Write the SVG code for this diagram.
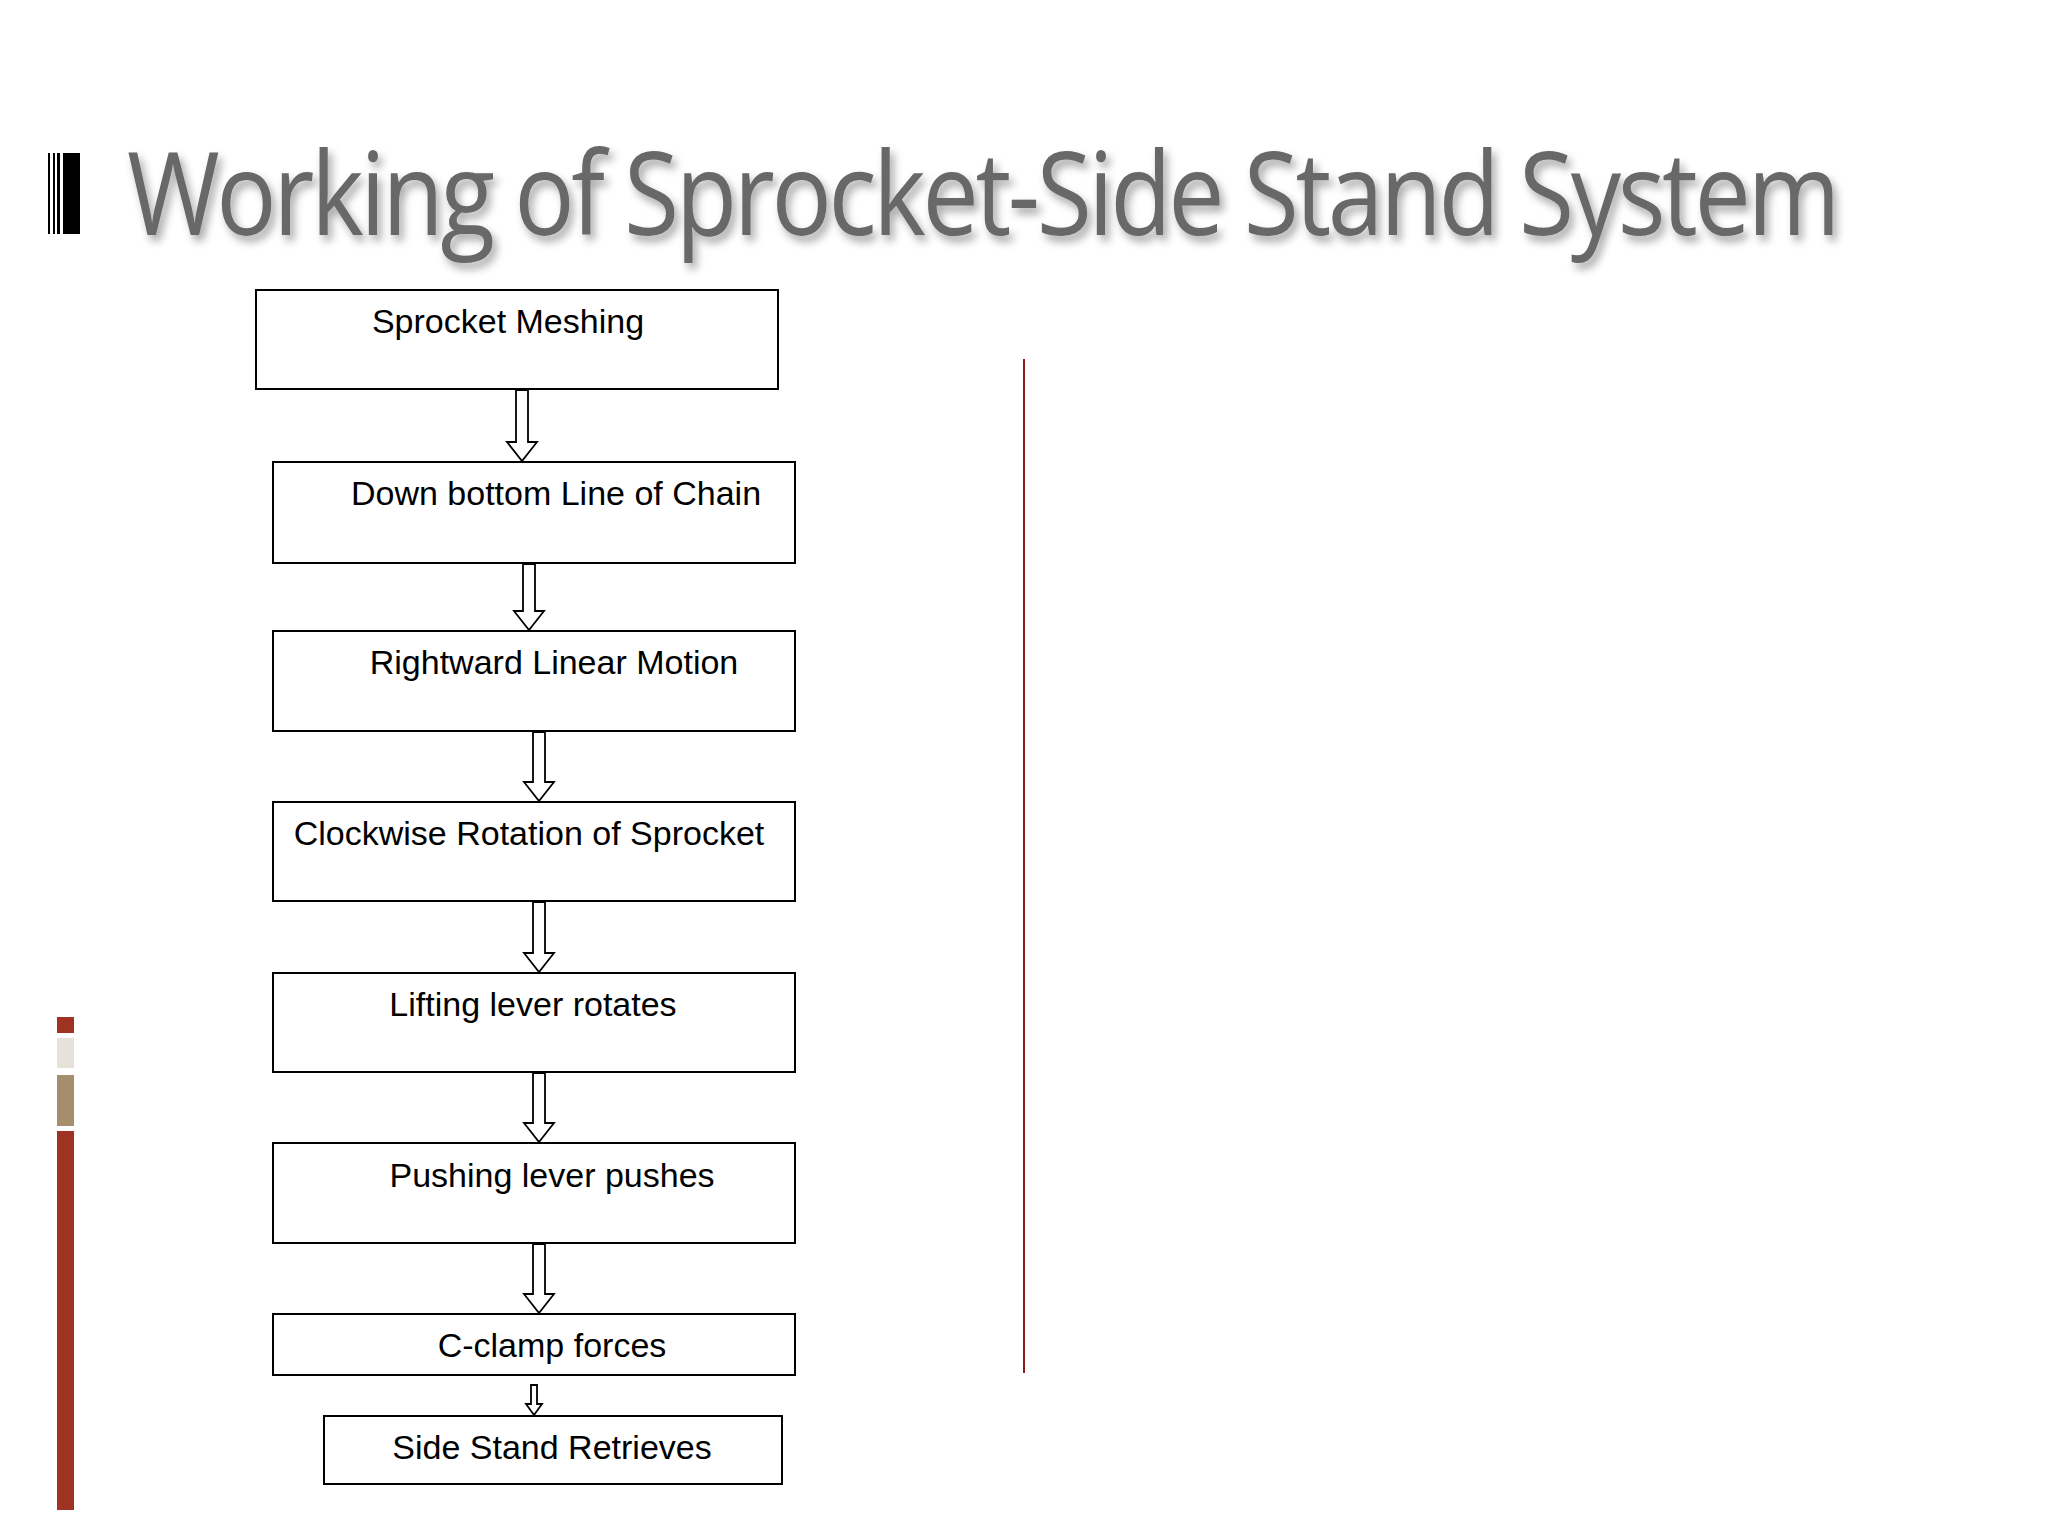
<svg xmlns="http://www.w3.org/2000/svg" width="2048" height="1536" viewBox="0 0 2048 1536">
<defs>
<filter id="sh" filterUnits="userSpaceOnUse" x="100" y="100" width="1800" height="200"><feDropShadow dx="4" dy="6" stdDeviation="4" flood-color="#000" flood-opacity="0.35"/></filter>
</defs>
<style>
.box{fill:#fff;stroke:#000;stroke-width:2}
.t{font-family:"Liberation Sans",Arial,sans-serif;font-size:34px;fill:#000;text-anchor:middle}
.ar{fill:#fff;stroke:#000;stroke-width:1.8}
</style>
<rect width="2048" height="1536" fill="#fff"/>
<g id="title-icon" fill="#000">
<rect x="48" y="153" width="2" height="81"/><rect x="53" y="153" width="2" height="81"/><rect x="57" y="153" width="3" height="81"/><rect x="63" y="153" width="17" height="81"/>
</g>
<text x="127" y="235" font-family="'Open Sans',sans-serif" font-size="116" fill="#676767" textLength="1710" lengthAdjust="spacingAndGlyphs" filter="url(#sh)" letter-spacing="-4">Working of Sprocket-Side Stand System</text>
<g id="sidebar">
<rect x="57" y="1017" width="17" height="16" fill="#a03224"/>
<rect x="57" y="1038" width="17" height="30" fill="#e6e1d9"/>
<rect x="57" y="1075" width="17" height="51" fill="#a58e6b"/>
<rect x="57" y="1131" width="17" height="379" fill="#a03224"/>
</g>
<line x1="1024" y1="359" x2="1024" y2="1373" stroke="#8b1a1a" stroke-width="2"/>
<g id="n1"><rect class="box" x="256" y="290" width="522" height="99"/><text class="t" x="508" y="333">Sprocket Meshing</text></g>
<g id="n2"><rect class="box" x="273" y="462" width="522" height="101"/><text class="t" x="556" y="505">Down bottom Line of Chain</text></g>
<g id="n3"><rect class="box" x="273" y="631" width="522" height="100"/><text class="t" x="554" y="674">Rightward Linear Motion</text></g>
<g id="n4"><rect class="box" x="273" y="802" width="522" height="99"/><text class="t" x="529" y="845">Clockwise Rotation of Sprocket</text></g>
<g id="n5"><rect class="box" x="273" y="973" width="522" height="99"/><text class="t" x="533" y="1016">Lifting lever rotates</text></g>
<g id="n6"><rect class="box" x="273" y="1143" width="522" height="100"/><text class="t" x="552" y="1187">Pushing lever pushes</text></g>
<g id="n7"><rect class="box" x="273" y="1314" width="522" height="61"/><text class="t" x="552" y="1357">C-clamp forces</text></g>
<g id="n8"><rect class="box" x="324" y="1416" width="458" height="68"/><text class="t" x="552" y="1459">Side Stand Retrieves</text></g>
<g id="connectors">
<path class="ar" d="M516 390 L528 390 L528 442 L537 442 L522 461 L507 442 L516 442 Z"/>
<path class="ar" d="M523 564 L535 564 L535 611 L544 611 L529 630 L514 611 L523 611 Z"/>
<path class="ar" d="M533 732 L545 732 L545 782 L554 782 L539 801 L524 782 L533 782 Z"/>
<path class="ar" d="M533 902 L545 902 L545 953 L554 953 L539 972 L524 953 L533 953 Z"/>
<path class="ar" d="M533 1073 L545 1073 L545 1123 L554 1123 L539 1142 L524 1123 L533 1123 Z"/>
<path class="ar" d="M533 1244 L545 1244 L545 1294 L554 1294 L539 1313 L524 1294 L533 1294 Z"/>
<path class="ar" d="M531 1385 L537 1385 L537 1404 L542 1404 L534 1415 L526 1404 L531 1404 Z"/>
</g>
</svg>
